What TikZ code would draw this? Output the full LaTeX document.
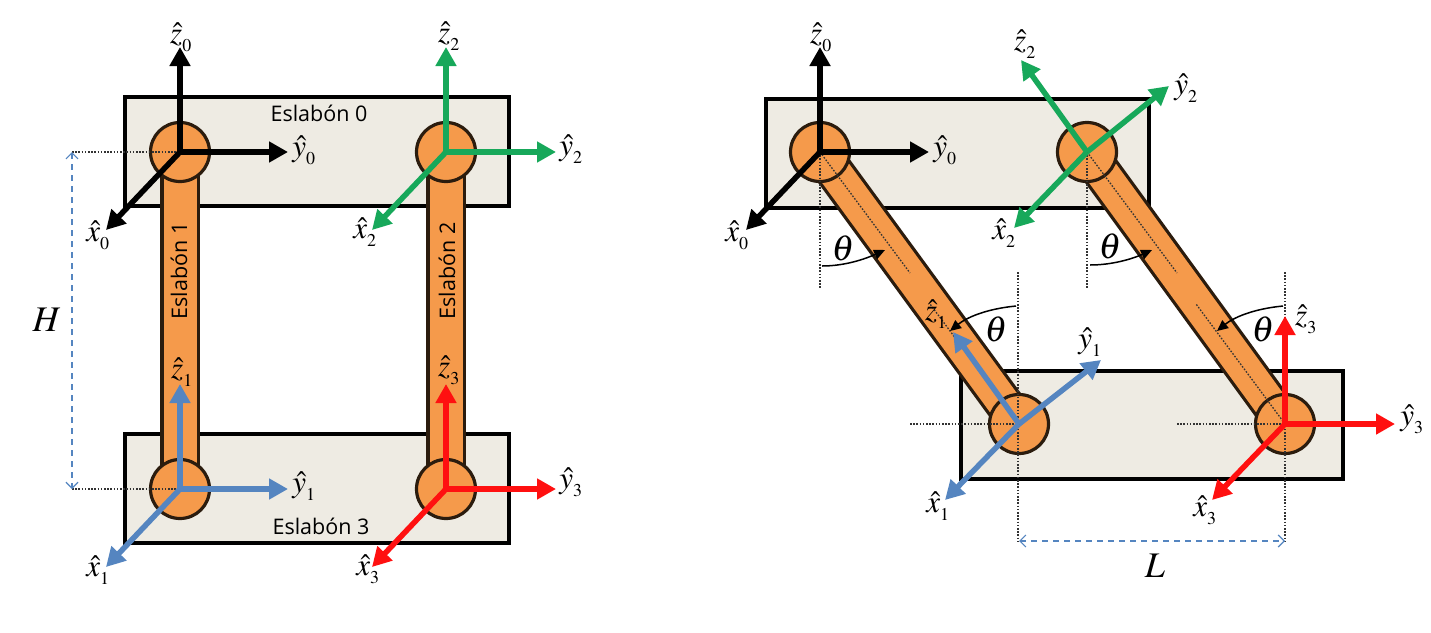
\documentclass[tikz,border=0pt]{standalone}
\usepackage{mathptmx}
\usepackage[no-math]{fontspec}
\setmainfont{Open Sans}
\usetikzlibrary{arrows.meta}
\DeclareMathSizes{31}{31}{18}{14}
\newcommand{\axl}[2]{$\hat{#1}_{\lower 3.5pt\hbox{$\scriptstyle #2$}}$}
\definecolor{plate}{HTML}{EEEBE3}
\definecolor{orangeL}{HTML}{F59A4B}
\definecolor{linkline}{HTML}{2B1C0E}
\definecolor{axblue}{HTML}{5585C0}
\definecolor{axgreen}{HTML}{17A85A}
\definecolor{axred}{HTML}{FF1010}
\tikzset{
  x=1pt,y=-1pt,
  plate box/.style={draw=black,line width=3.5pt,fill=plate,outer sep=0pt,inner sep=0pt,anchor=north west},
  joint/.style={circle,draw=linkline,line width=3.2pt,fill=orangeL,minimum size=59pt,inner sep=0pt},
  link out/.style={line width=39.5pt,draw=linkline},
  link in/.style={line width=33pt,draw=orangeL},
  axis/.style={line width=5.5pt,-{Triangle[length=19pt,width=20pt]}},
  thin dot/.style={line width=1.3pt,draw=black!80,dash pattern=on 1.6pt off 1.6pt},
  dim line/.style={line width=1.2pt,draw=axblue,dash pattern=on 6pt off 5pt,{Straight Barb[length=6pt,width=12pt]}-{Straight Barb[length=6pt,width=12pt]}},
  ang/.style={line width=1.5pt,black,-{Triangle[length=11pt,width=10pt]}},
  lab/.style={inner sep=0pt,font=\fontsize{31}{31}\selectfont},
  sym/.style={inner sep=0pt,font=\fontsize{36}{36}\selectfont},
  txt/.style={inner sep=0pt,font=\fontsize{21.5}{22}\selectfont,text=black},
}
\begin{document}
\begin{tikzpicture}
\useasboundingbox (0,0) rectangle (1431,632);
% --- left figure ---
\node[plate box,minimum width=384pt,minimum height=109pt] (p0) at (125,97) {};
\node[plate box,minimum width=384pt,minimum height=109pt] (p3) at (125,434) {};
\coordinate (a0) at (180,152);
\coordinate (a2) at (446,152);
\coordinate (a1) at (180,489);
\coordinate (a3) at (446,489);
\draw[link out] (a0) -- (a1); \draw[link in] (a0) -- (a1);
\draw[link out] (a2) -- (a3); \draw[link in] (a2) -- (a3);
\node[joint] (ja0) at (a0) {};
\node[joint] (ja2) at (a2) {};
\node[joint] (ja1) at (a1) {};
\node[joint] (ja3) at (a3) {};
\node[txt] (t0) at (319,113) {Eslabón 0};
\node[txt] (t3) at (321,526) {Eslabón 3};
\node[txt,rotate=90] (t1) at (179,271) {Eslabón 1};
\node[txt,rotate=90] (t2) at (447,271) {Eslabón 2};
% dimension H
\coordinate (hT) at (72,152);
\coordinate (hB) at (72,489);
\draw[thin dot] (hT) -- (a0);
\draw[thin dot] (hB) -- (a1);
\draw[dim line] (hT) -- (hB);
\node[sym] (H) at (47,320) {$H$};
% frames
\foreach \o/\c/\zx/\zy/\yx/\yy/\xx/\xy/\n in {
  a0/black/180/47/288/152/106/230/az0,
  a2/axgreen/446/47/556/152/372/230/az2,
  a1/axblue/180/384/288/489/106/567/az1,
  a3/axred/446/384/556/489/372/567/az3}{
  \coordinate (\n z) at (\zx,\zy);
  \coordinate (\n y) at (\yx,\yy);
  \coordinate (\n x) at (\xx,\xy);
  \draw[axis,\c] (\o) -- (\n z);
  \draw[axis,\c] (\o) -- (\n y);
  \draw[axis,\c] (\o) -- (\n x);
}
\node[lab] (lz0) at (181,37) {\axl{z}{0}};
\node[lab] (ly0) at (304,150) {\axl{y}{0}};
\node[lab] (lx0) at (98,235) {\axl{x}{0}};
\node[lab] (lz2) at (449,36) {\axl{z}{2}};
\node[lab] (ly2) at (571,149) {\axl{y}{2}};
\node[lab] (lx2) at (365,232) {\axl{x}{2}};
\node[lab] (lz1) at (182,372) {\axl{z}{1}};
\node[lab] (ly1) at (304,486) {\axl{y}{1}};
\node[lab] (lx1) at (98,570) {\axl{x}{1}};
\node[lab] (lz3) at (449,370) {\axl{z}{3}};
\node[lab] (ly3) at (571,482) {\axl{y}{3}};
\node[lab] (lx3) at (368,569) {\axl{x}{3}};
% --- right figure ---
\node[plate box,minimum width=383pt,minimum height=109pt] (q0) at (766,99) {};
\node[plate box,minimum width=382pt,minimum height=108pt] (q3) at (961,371) {};
\coordinate (b0) at (820,152);
\coordinate (b2) at (1087,152);
\coordinate (b1) at (1019,424);
\coordinate (b3) at (1285,424);
\draw[link out] (b0) -- (b1); \draw[link in] (b0) -- (b1);
\draw[link out] (b2) -- (b3); \draw[link in] (b2) -- (b3);
\node[joint] (jb0) at (b0) {};
\node[joint] (jb2) at (b2) {};
\node[joint] (jb1) at (b1) {};
\node[joint] (jb3) at (b3) {};
% construction lines
\coordinate (v0) at (820,288);
\coordinate (v2) at (1087,288);
\coordinate (v1t) at (1018,272);
\coordinate (v1b) at (1018,541);
\coordinate (v3t) at (1285,272);
\coordinate (v3b) at (1285,541);
\coordinate (h1) at (910,424);
\coordinate (h3) at (1177,424);
\coordinate (d0) at (910,273);
\coordinate (d2) at (1177,273);
\coordinate (d1) at (930,304);
\coordinate (d3) at (1196,304);
\draw[thin dot] (b0) -- (v0);
\draw[thin dot] (b2) -- (v2);
\draw[thin dot] (v1t) -- (v1b);
\draw[thin dot] (v3t) -- (v3b);
\draw[thin dot] (h1) -- (b1);
\draw[thin dot] (h3) -- (b3);
\draw[thin dot] (b0) -- (d0);
\draw[thin dot] (b2) -- (d2);
\draw[thin dot] (b1) -- (d1);
\draw[thin dot] (b3) -- (d3);
% dimension L
\coordinate (lL) at (1019,541);
\coordinate (lR) at (1285,541);
\draw[dim line] (lL) -- (lR);
\node[sym] (L) at (1155,566) {$L$};
% angles
\coordinate (t0a) at (822,266); \coordinate (t0b) at (885,250);
\coordinate (t2a) at (1090,265); \coordinate (t2b) at (1152,250);
\coordinate (t1a) at (1016,306); \coordinate (t1b) at (950,331);
\coordinate (t3a) at (1283,306); \coordinate (t3b) at (1217,331);
\draw[ang] (t0a) .. controls (845,266) and (865,259) .. (t0b);
\draw[ang] (t2a) .. controls (1112,265) and (1132,259) .. (t2b);
\draw[ang] (t1a) .. controls (985,309) and (966,318) .. (t1b);
\draw[ang] (t3a) .. controls (1252,309) and (1233,318) .. (t3b);
\node[sym] (th0) at (843,248) {$\theta$};
\node[sym] (th2) at (1110,246) {$\theta$};
\node[sym] (th1) at (996,329) {$\theta$};
\node[sym] (th3) at (1263,329) {$\theta$};
% frames
\foreach \o/\c/\zx/\zy/\yx/\yy/\xx/\xy/\n in {
  b0/black/820/47/929/152/746/230/bz0,
  b2/axgreen/1087/152/1169/86/1014/228/bz2,
  b1/axblue/1019/424/1101/360/945/500/bz1,
  b3/axred/1285/424/1395/424/1212/500/bz3}{
  \coordinate (\n y) at (\yx,\yy);
  \coordinate (\n x) at (\xx,\xy);
  \draw[axis,\c] (\o) -- (\n y);
  \draw[axis,\c] (\o) -- (\n x);
}
\coordinate (bz0z) at (820,47);
\coordinate (bz2z) at (1021,60);
\coordinate (bz1z) at (953,332);
\coordinate (bz3z) at (1285,316);
\draw[axis,black] (b0) -- (bz0z);
\draw[axis,axgreen] (b2) -- (bz2z);
\draw[axis,axblue] (b1) -- (bz1z);
\draw[axis,axred] (b3) -- (bz3z);
\node[lab] (mz0) at (821,37) {\axl{z}{0}};
\node[lab] (my0) at (945,150) {\axl{y}{0}};
\node[lab] (mx0) at (737,235) {\axl{x}{0}};
\node[lab] (mz2) at (1025,44) {\axl{z}{2}};
\node[lab] (my2) at (1186,88) {\axl{y}{2}};
\node[lab] (mx2) at (1004,233) {\axl{x}{2}};
\node[lab] (mz1) at (936,314) {\axl{z}{1}};
\node[lab] (my1) at (1090,342) {\axl{y}{1}};
\node[lab] (mx1) at (938,506) {\axl{x}{1}};
\node[lab] (mz3) at (1306,319) {\axl{z}{3}};
\node[lab] (my3) at (1412,419) {\axl{y}{3}};
\node[lab] (mx3) at (1205,510) {\axl{x}{3}};
\end{tikzpicture}
\end{document}
